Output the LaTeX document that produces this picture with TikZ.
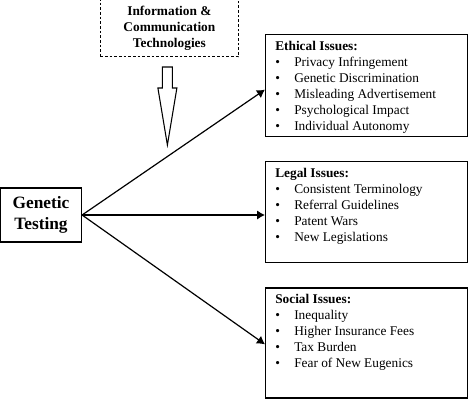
\documentclass[tikz,border=0pt]{standalone}
\usepackage{fontspec}
\setmainfont{Liberation Serif}
\usetikzlibrary{arrows.meta, positioning}

\newcommand{\bitem}[1]{\makebox[14.25pt][l]{\textbullet}#1}

\begin{document}
\begin{tikzpicture}[
        x=0.75pt, y=-0.75pt,
        node distance=18pt,
        box/.style={draw, line width=0.9pt, rectangle, inner sep=0pt},
        issuebox/.style={box, minimum width=151.5pt},
        list/.style={align=left, anchor=north west, inner xsep=7.5pt, inner ysep=5pt, font=\fontsize{10}{12}\selectfont},
        arrow/.style={-{Latex[length=6pt, width=7pt]}, line width=0.9pt}
    ]
        \useasboundingbox (0,0) rectangle (474,404);

        % Nodes
        \node[box, minimum width=60.75pt, minimum height=40.5pt, align=center, font=\fontsize{13}{16}\selectfont\bfseries] (genetic) at (41,215) {Genetic\\Testing};
        \node[box, dash pattern=on 2pt off 1.5pt, line width=0.6pt, minimum width=103.5pt, minimum height=42.75pt, anchor=south west, align=center, font=\fontsize{10}{12}\selectfont\bfseries] (ict) at (100,57) {Information \&\\Communication\\Technologies};

        \node[issuebox, minimum height=76.5pt, anchor=north west] (ethical) at (265,34) {};
        \node[issuebox, minimum height=75.75pt, below=of ethical] (legal) {};
        \node[issuebox, minimum height=82.5pt, below=of legal] (social) {};

        \node[list] (ethicallist) at (ethical.north west) {\textbf{Ethical Issues:}\\
            \bitem{Privacy Infringement}\\
            \bitem{Genetic Discrimination}\\
            \bitem{Misleading Advertisement}\\
            \bitem{Psychological Impact}\\
            \bitem{Individual Autonomy}};
        \node[list] (legallist) at (legal.north west) {\textbf{Legal Issues:}\\
            \bitem{Consistent Terminology}\\
            \bitem{Referral Guidelines}\\
            \bitem{Patent Wars}\\
            \bitem{New Legislations}};
        \node[list] (sociallist) at (social.north west) {\textbf{Social Issues:}\\
            \bitem{Inequality}\\
            \bitem{Higher Insurance Fees}\\
            \bitem{Tax Burden}\\
            \bitem{Fear of New Eugenics}};

        % Hollow arrow below the ICT box
        \coordinate[below=7.5pt of ict.south, xshift=-1.5pt] (shaft);
        \draw[line width=0.8pt] (shaft) ++(-5,0) -- ++(10,0) -- ++(0,21) -- ++(4.5,0)
            -- ++(-9.5,57) -- ++(-9.5,-57) -- ++(4.5,0) -- cycle;

        % Arrows
        \draw[arrow] (genetic.east) -- ([yshift=-3pt]ethical.west);
        \draw[arrow] (genetic.east) -- (genetic.east -| legal.west);
        \draw[arrow] (genetic.east) -- ([yshift=-1pt]social.west);
\end{tikzpicture}
\end{document}
